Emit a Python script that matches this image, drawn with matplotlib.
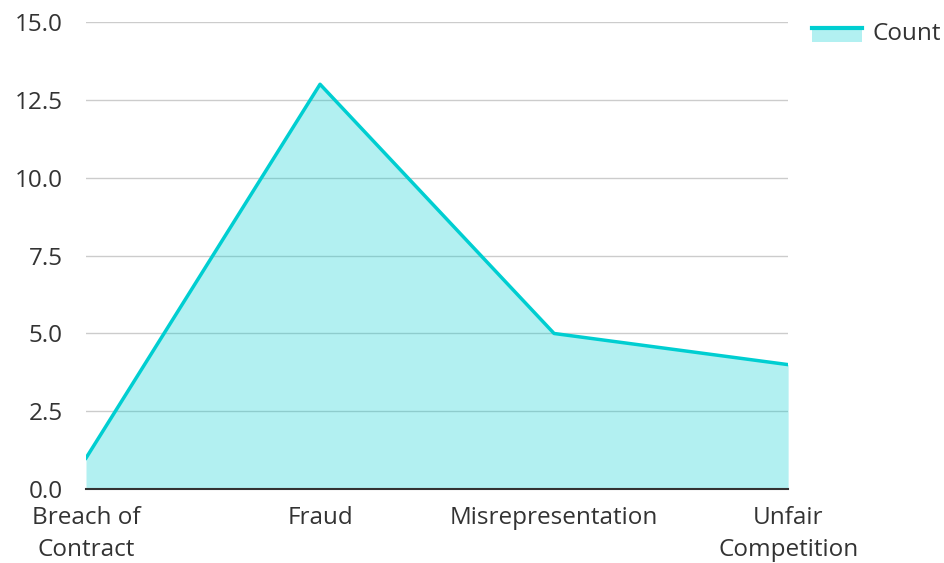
import matplotlib
matplotlib.use("Agg")
import matplotlib.pyplot as plt
from matplotlib.patches import Patch, Rectangle
from matplotlib.lines import Line2D
from matplotlib.legend_handler import HandlerBase

categories = ["Breach of\nContract", "Fraud", "Misrepresentation", "Unfair\nCompetition"]
counts = [1, 13, 5, 4]
yticks = [0.0, 2.5, 5.0, 7.5, 10.0, 12.5, 15.0]

line_color = "#00CED1"
text_color = "#333333"


class AreaHandler(HandlerBase):
    """Legend key: filled box with the line along its top edge."""

    def create_artists(self, legend, orig_handle, xdescent, ydescent,
                       width, height, fontsize, trans):
        rect = Rectangle((-xdescent, -ydescent - 0.25 * height), width, height,
                         facecolor=line_color, alpha=0.3, linewidth=0,
                         transform=trans)
        top = -ydescent + 0.75 * height
        line = Line2D([-xdescent, width - xdescent], [top, top],
                      color=line_color, linewidth=3, transform=trans)
        return [rect, line]


plt.rcParams["font.family"] = ["Open Sans", "DejaVu Sans"]

fig = plt.figure(figsize=(9.45, 5.63), dpi=100)
ax = fig.add_axes([0.091, 0.131, 0.743, 0.830])

x = list(range(len(categories)))
ax.fill_between(x, counts, 0, color=line_color, alpha=0.3, linewidth=0, zorder=3)
ax.plot(x, counts, color=line_color, linewidth=2.5, zorder=4)

ax.set_xlim(0, len(categories) - 1)
ax.set_ylim(0, 15)
ax.set_xticks(x)
ax.set_xticklabels(categories, fontsize=17.5, color=text_color, linespacing=1.45)
ax.set_yticks(yticks)
ax.set_yticklabels([f"{v:.1f}" for v in yticks], fontsize=17.5, color=text_color)
ax.tick_params(length=0)
ax.tick_params(axis="y", pad=17)
ax.tick_params(axis="x", pad=12)

ax.grid(axis="y", color="#cccccc", linewidth=1, zorder=1)
ax.set_axisbelow(True)
for s in ["top", "right", "left"]:
    ax.spines[s].set_visible(False)
ax.spines["bottom"].set_color("#333333")
ax.spines["bottom"].set_linewidth(1.5)
ax.spines["bottom"].set_zorder(5)

fig.legend([Patch()], ["Count"], handler_map={Patch: AreaHandler()},
           loc="upper left", bbox_to_anchor=(0.836, 1.0),
           frameon=False, fontsize=17.5, handlelength=2.05, handleheight=0.55,
           handletextpad=0.45, labelcolor=text_color)

fig.savefig("out.png", dpi=100)
